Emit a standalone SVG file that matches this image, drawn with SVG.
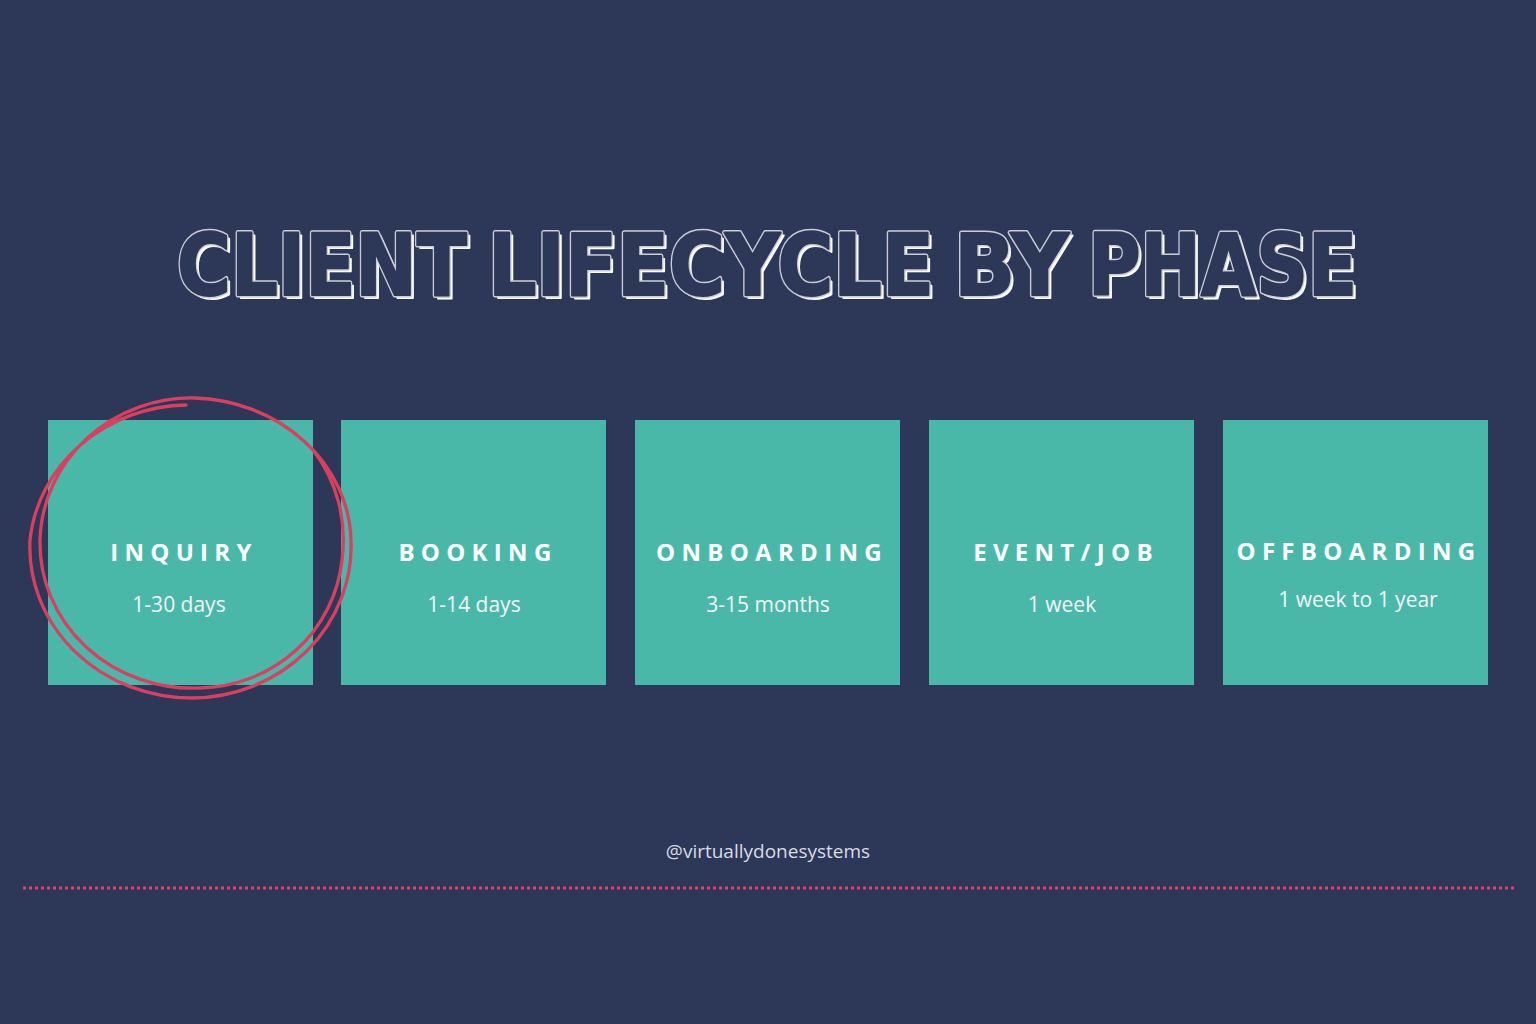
<svg xmlns="http://www.w3.org/2000/svg" width="1536" height="1024" viewBox="0 0 1536 1024">
<style>
.box{fill:#4ab8a8}
.lbl{font-family:"Open Sans","DejaVu Sans",sans-serif;font-weight:700;font-size:24px;letter-spacing:6.3px;fill:#ffffff;text-anchor:middle}
.sub{font-family:"Open Sans","DejaVu Sans",sans-serif;font-size:21px;fill:#f2f7f6;text-anchor:middle}
.ttl{font-family:"DejaVu Sans","Liberation Sans",sans-serif;font-weight:700;font-size:86px}
.sh{fill:#ffffff;stroke:#ffffff;stroke-width:2;stroke-linejoin:round}
.ol{fill:#c9ccd6;stroke:#c9ccd6;stroke-width:5;stroke-linejoin:round}
.fg{fill:#2d3757;stroke:#2d3757;stroke-width:2;stroke-linejoin:round}
</style>
<rect width="1536" height="1024" fill="#2d3757"/>
<g id="title">
<g transform="translate(3,3)">
<text class="ttl sh" x="177" y="295" textLength="290" lengthAdjust="spacingAndGlyphs">CLIENT</text>
<text class="ttl sh" x="488" y="295" textLength="446" lengthAdjust="spacingAndGlyphs">LIFECYCLE</text>
<text class="ttl sh" x="954" y="295" textLength="115" lengthAdjust="spacingAndGlyphs">BY</text>
<text class="ttl sh" x="1088" y="295" textLength="269" lengthAdjust="spacingAndGlyphs">PHASE</text>
</g>
<text class="ttl ol" x="177" y="295" textLength="290" lengthAdjust="spacingAndGlyphs">CLIENT</text>
<text class="ttl ol" x="488" y="295" textLength="446" lengthAdjust="spacingAndGlyphs">LIFECYCLE</text>
<text class="ttl ol" x="954" y="295" textLength="115" lengthAdjust="spacingAndGlyphs">BY</text>
<text class="ttl ol" x="1088" y="295" textLength="269" lengthAdjust="spacingAndGlyphs">PHASE</text>
<text class="ttl fg" x="177" y="295" textLength="290" lengthAdjust="spacingAndGlyphs">CLIENT</text>
<text class="ttl fg" x="488" y="295" textLength="446" lengthAdjust="spacingAndGlyphs">LIFECYCLE</text>
<text class="ttl fg" x="954" y="295" textLength="115" lengthAdjust="spacingAndGlyphs">BY</text>
<text class="ttl fg" x="1088" y="295" textLength="269" lengthAdjust="spacingAndGlyphs">PHASE</text>
</g>
<g id="inquiry"><rect class="box" x="48" y="420" width="265" height="265"/><text class="lbl" x="184" y="561">INQUIRY</text><text class="sub" x="179" y="612">1-30 days</text></g>
<g id="booking"><rect class="box" x="341" y="420" width="265" height="265"/><text class="lbl" x="478" y="561">BOOKING</text><text class="sub" x="474" y="612">1-14 days</text></g>
<g id="onboarding"><rect class="box" x="635" y="420" width="265" height="265"/><text class="lbl" x="772" y="561">ONBOARDING</text><text class="sub" x="768" y="612">3-15 months</text></g>
<g id="eventjob"><rect class="box" x="929" y="420" width="265" height="265"/><text class="lbl" x="1066" y="561">EVENT/JOB</text><text class="sub" x="1062" y="612">1 week</text></g>
<g id="offboarding"><rect class="box" x="1223" y="420" width="265" height="265"/><text class="lbl" x="1359" y="560">OFFBOARDING</text><text class="sub" x="1358" y="607">1 week to 1 year</text></g>
<g id="connectors">
<path d="M186,405 A160 150 0 0 0 30,540 A162 151 0 0 0 192,698 A160 152 0 0 0 351,540 A162 146 0 0 0 195,398 A152 146 0 0 0 40,540 A153 145 0 0 0 200,688 A145 143 0 0 0 342,560 A130 140 0 0 0 313,450" fill="none" stroke="#d9405f" stroke-width="3.3" stroke-linecap="round"/>
</g>
<g id="footer">
<text x="768" y="858" font-family="Open Sans, DejaVu Sans, sans-serif" font-size="19" fill="#d8dce6" text-anchor="middle">@virtuallydonesystems</text>
<line x1="23" y1="888" x2="1514" y2="888" stroke="#e04468" stroke-width="3" stroke-dasharray="3 3"/>
</g>
</svg>
